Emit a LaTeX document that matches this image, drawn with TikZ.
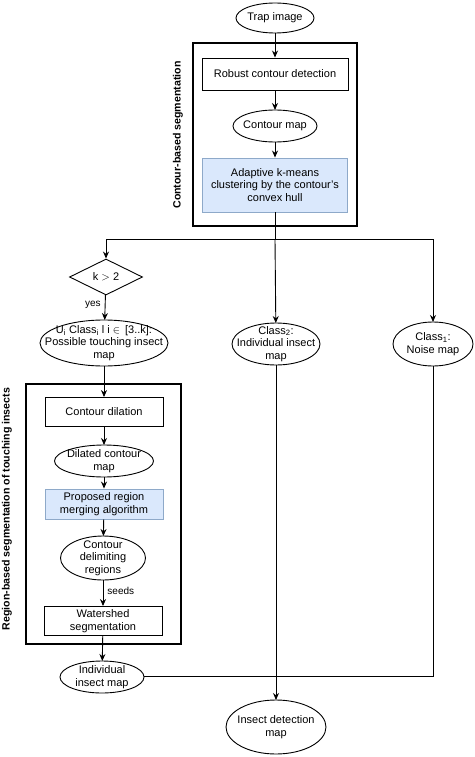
\documentclass[tikz,border=0pt]{standalone}
\usepackage{fontspec}
\setmainfont{Liberation Sans}
\usetikzlibrary{shapes.geometric,arrows.meta}
\definecolor{boxblue}{HTML}{DAE8FC}
\definecolor{boxblueline}{HTML}{8EA9C9}
\tikzset{
  base/.style={font=\fontsize{11}{12.5}\selectfont, align=center, line width=0.9pt},
  ell/.style={base, draw, ellipse, inner sep=0pt, outer sep=0pt},
  rbox/.style={base, draw, rectangle, inner sep=0pt},
  bbox/.style={rbox, fill=boxblue, draw=boxblueline},
  dia/.style={base, draw, diamond, aspect=2, inner sep=0pt},
  txt/.style={base, inner sep=0pt},
  frame/.style={draw, line width=1.8pt},
  side/.style={font=\bfseries\fontsize{10.6}{12}\selectfont, rotate=90, inner sep=0pt},
  conn/.style={line width=0.9pt, -{Stealth[length=7pt,width=6pt]}},
  plain/.style={line width=0.9pt},
}
\newcommand{\ellnode}[5]{%
  \node[ell, minimum width=#3, minimum height=#4] (#1) at (#2) {};
  \node[txt] (#1t) at (#1) {#5};}
\begin{document}
\begin{tikzpicture}[x=1pt,y=-1pt]
\useasboundingbox (0,0) rectangle (474,757);
% frames
\draw[frame] (193,43) rectangle (357,226);
\draw[frame] (26,384) rectangle (181,644);
\node[side] (lab1) at (178,135) {Contour-based segmentation};
\node[side] (lab2) at (7,509) {Region-based segmentation of touching insects};
% top column
\ellnode{trap}{275,18}{78}{30}{Trap image}
\node[rbox, minimum width=146, minimum height=32] (rcd) at (275,74) {Robust contour detection};
\ellnode{cmap}{275,126}{84}{32}{Contour map}
\node[bbox, minimum width=145, minimum height=54] (akm) at (275,185) {Adaptive k-means\\clustering by the contour's\\convex hull};
% branches
\node[dia, minimum width=73, minimum height=36] (k2) at (106,277) {k $>$ 2};
\ellnode{uc}{104,343}{128}{46}{U\textsubscript{i} Class\textsubscript{i} l i $\in$ \,[3..k]:\\Possible touching insect\\map}
\ellnode{c2}{276,344}{88}{42}{Class\textsubscript{2}:\\Individual insect\\map}
\ellnode{c1}{433,344}{80}{44}{Class\textsubscript{1}:\\Noise map}
% lower column
\node[rbox, minimum width=118, minimum height=29] (cd) at (104,412) {Contour dilation};
\ellnode{dcm}{104,461}{99}{32}{Dilated contour\\map}
\node[bbox, minimum width=118, minimum height=30] (prm) at (104,504) {Proposed region\\merging algorithm};
\ellnode{cdr}{103,558}{85}{44}{Contour\\delimiting\\regions}
\node[rbox, minimum width=118, minimum height=29] (ws) at (103,621) {Watershed\\segmentation};
\ellnode{iim}{102,677}{84}{32}{Individual\\insect map}
\ellnode{idm}{276,727}{100}{54}{Insect detection\\map}
% coordinates
\coordinate (split) at (275,239);
\coordinate (lft) at (106,239);
\coordinate (rgt) at (433,239);
\coordinate (join) at (433,676);
% connectors
\draw[conn] (trap) -- (rcd);
\draw[conn] (rcd) -- (cmap);
\draw[conn] (cmap) -- (akm);
\draw[plain] (akm) -- (split);
\draw[conn] (split) -| (k2.north);
\draw[conn] (split) -| (rgt) -- (c1);
\draw[conn] (split) -- (c2);
\draw[conn] (k2) -- node[txt, left=4pt, pos=0.4, font=\fontsize{10}{12}\selectfont] (yes) {yes} (uc);
\draw[conn] (uc) -- (cd);
\draw[conn] (cd) -- (dcm);
\draw[conn] (dcm) -- (prm);
\draw[conn] (prm) -- (cdr);
\draw[conn] (cdr) -- node[txt, right=4pt, pos=0.4, font=\fontsize{10}{12}\selectfont] (seeds) {seeds} (ws);
\draw[conn] (ws) -- (iim);
\draw[conn] (c2) -- (idm);
\draw[plain] (c1) -- (join) -- (iim.east |- join);
\end{tikzpicture}
\end{document}
